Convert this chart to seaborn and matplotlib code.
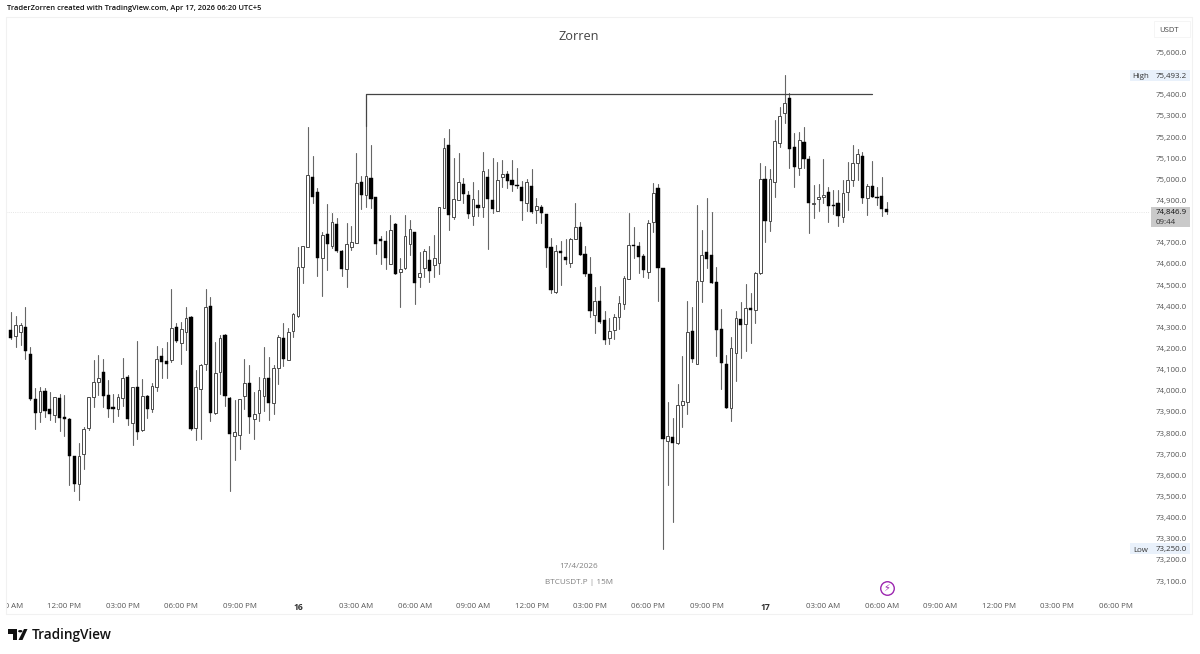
import numpy as np
import pandas as pd
import matplotlib
matplotlib.use('Agg')
import matplotlib.pyplot as plt
import seaborn as sns
from matplotlib.patches import Rectangle, Polygon, Circle
from matplotlib.lines import Line2D
from matplotlib.transforms import Bbox

# BTCUSDT.P 15M candles
opens = [74287,74259,74279,74303,74174,73961,73901,73997,73913,73885,
         73967,73874,73868,73691,73559,73699,73822,73972,74043,74087,
         73979,73921,73913,73964,74066,73849,74016,73814,73977,73913,
         74016,74163,74141,74144,74301,74227,74279,74350,73822,74008,
         74126,74401,73893,74090,74263,73967,73786,73790,73975,74035,
         73868,73893,73975,74059,73943,74110,74252,74145,74284,74355,
         74584,74681,75010,74938,74630,74741,74685,74788,74662,74577,
         74680,74700,74987,74927,75006,74916,74719,74710,74601,74787,
         74563,74580,74694,74752,74539,74580,74617,74596,74606,74866,
         75164,74823,74904,74976,74926,74828,74879,74867,75010,74902,
         74850,75010,75025,74997,74975,74962,74886,74967,74857,74871,
         74836,74678,74467,74659,74634,74603,74719,74777,74645,74552,
         74358,74424,74334,74251,74289,74347,74409,74530,74688,74685,
         74636,74560,74798,74959,74579,73764,73783,73751,73931,73945,
         74282,74126,74521,74656,74642,74514,74292,74128,73918,74180,
         74341,74316,74391,74382,74557,75001,74804,74987,75170,75312,
         75383,75151,75052,75176,75096,74882,74905,74915,74938,74878,
         74889,74823,74942,74995,75079,75109,74913,74968,74916,74919,74861]
closes = [74248,74311,74311,74190,73961,73896,73999,73906,73888,73970,
          73872,73868,73691,73559,73693,73819,73969,74041,74059,73977,
          73913,73916,73969,74059,73865,74016,73806,73977,73916,74022,
          74150,74137,74126,74298,74235,74290,74342,73819,74016,74124,
          74398,73893,74085,74248,73977,73795,73806,73959,74035,73877,
          73888,74003,74059,73940,74110,74255,74151,74279,74361,74587,
          74686,75019,74918,74630,74735,74694,74800,74662,74577,74692,
          74703,74981,74927,75014,74907,74692,74708,74628,74759,74553,
          74575,74730,74765,74512,74557,74659,74565,74630,74871,75150,
          74833,74905,74986,74932,74836,74905,74863,75041,74909,74860,
          74997,75025,74994,74973,74967,74896,74989,74847,74872,74839,
          74677,74476,74659,74653,74620,74716,74777,74642,74550,74375,
          74423,74327,74241,74281,74349,74416,74532,74688,74685,74634,
          74571,74795,74935,74579,73770,73787,73754,73932,73951,74279,
          74148,74521,74642,74625,74511,74287,74130,73920,74202,74342,
          74312,74390,74380,74557,75001,74804,75001,75183,75301,75362,
          75145,75060,75184,75098,74886,74889,74916,74926,74875,74874,
          74826,74934,74998,75076,75120,74913,74970,74915,74913,74861,74846.9]
highs = [74374,74354,74322,74398,74205,74011,74019,74011,73995,73972,
         73987,73979,73869,73691,73751,73830,73972,74145,74169,74148,
         74051,73983,73987,74156,74074,74019,74237,74055,73979,74035,
         74213,74200,74232,74481,74319,74326,74398,74354,74098,74126,
         74481,74445,74232,74263,74267,73969,73956,73959,74148,74124,
         73992,74066,74208,74158,74121,74263,74319,74295,74366,74681,
         74686,75246,75110,74957,74752,74883,74839,74815,74665,74792,
         74779,75123,75016,75252,75162,74918,74732,74757,74830,74792,
         74626,74830,74807,74752,74658,74669,74685,74735,74871,75198,
         75238,75102,75123,75005,74945,74987,74950,75131,75049,75102,
         75084,75091,75039,75091,75052,74994,75000,75047,74910,74879,
         74836,74721,74689,74710,74716,74721,74886,74800,74685,74634,
         74492,74495,74379,74342,74363,74448,74543,74839,74773,74705,
         74647,74807,74984,74978,74579,73948,73869,74032,74164,74426,
         74398,74878,74760,74913,74847,74584,74387,74169,74253,74379,
         74420,74503,74461,74563,75076,75064,75047,75280,75344,75493.2,
         75410,75217,75222,75246,75110,74973,74978,75094,74962,74949,
         74949,74997,75083,75162,75142,75131,74978,75087,74962,75009,74894]
lows = [74243,74208,74216,74148,73956,73817,73854,73877,73861,73854,
        73811,73786,73554,73525,73483,73628,73814,73925,73979,73925,
        73877,73854,73880,73928,73838,73743,73770,73811,73872,73901,
        74000,74059,74059,74137,74232,74126,74192,73814,73767,73770,
        74098,73858,73890,73987,73928,73525,73672,73723,73916,73801,
        73770,73858,73903,73861,73890,74032,74117,74145,74255,74350,
        74508,74681,74886,74544,74449,74571,74673,74657,74544,74492,
        74665,74697,74860,74867,74863,74647,74599,74574,74599,74552,
        74397,74578,74642,74410,74492,74539,74514,74539,74552,74866,
        74760,74811,74902,74890,74815,74784,74827,74820,74670,74842,
        74850,74962,74957,74946,74957,74807,74850,74839,74795,74792,
        74587,74464,74464,74500,74599,74584,74719,74640,74544,74350,
        74275,74322,74221,74221,74243,74290,74385,74527,74626,74555,
        74539,74535,74752,74426,73250,73554,73377,73748,73827,73888,
        74137,74125,74421,74579,74508,74164,74008,73917,73858,74046,
        74153,74189,74224,74322,74550,74705,74757,74915,75151,75265,
        75052,74962,75023,75052,74748,74815,74850,74886,74800,74836,
        74779,74800,74855,74968,74997,74886,74831,74915,74878,74828,74836]

time_ticks = [-1, 11, 23, 35, 47, 59, 71, 83, 95, 107, 119, 131, 143, 155, 167, 179, 191, 203, 215, 227]
time_labels = ['09:00 AM', '12:00 PM', '03:00 PM', '06:00 PM', '09:00 PM', '16', '03:00 AM', '06:00 AM',
               '09:00 AM', '12:00 PM', '03:00 PM', '06:00 PM', '09:00 PM', '17', '03:00 AM', '06:00 AM',
               '09:00 AM', '12:00 PM', '03:00 PM', '06:00 PM']
price_ticks = [75600, 75400, 75300, 75200, 75100, 75000, 74900, 74700, 74600, 74500, 74400, 74300, 74200,
               74100, 74000, 73900, 73800, 73700, 73600, 73500, 73400, 73300, 73200, 73100]

# drawn tool: start bar, end bar, level
level_bars = [73, 73, 177]
level_prices = [75252, 75403, 75403]
last_price = 74846.9
high_price = 75493.2
low_price = 73250.0

sns.set_theme(style='white')
plt.rcParams['font.family'] = ['Open Sans', 'DejaVu Sans']

W, H = 1200, 654
fig = plt.figure(figsize=(W / 100, H / 100), dpi=100, facecolor='white')


def fx(x):
    return x / W


def fy(y):
    return 1 - y / H


def ftext(x, y, s, **kw):
    kw.setdefault('va', 'center')
    return fig.text(fx(x), fy(y + 1), s, **kw)


def fbox(x0, y0, x1, y1, **kw):
    fig.add_artist(Rectangle((fx(x0), fy(y1)), (x1 - x0) / W, (y1 - y0) / H,
                             transform=fig.transFigure, **kw))


ax = fig.add_axes([fx(6), fy(595), (1150 - 6) / W, (595 - 17) / H])
ax.set_facecolor('white')

df = pd.DataFrame({'open': opens, 'high': highs, 'low': lows, 'close': closes})
df['bar'] = np.arange(len(df))

# wicks
wicks = df.melt(id_vars='bar', value_vars=['high', 'low'], value_name='price')
sns.lineplot(data=wicks, x='bar', y='price', units='bar', estimator=None, color='#666666',
             lw=0.8, legend=False, ax=ax, zorder=2)

# bodies
up = df[df['close'] >= df['open']]
down = df[df['close'] < df['open']]
ax.bar(up['bar'], up['close'] - up['open'], bottom=up['open'], width=0.56,
       color='white', edgecolor='#4a4a4a', linewidth=0.7, zorder=3)
ax.bar(down['bar'], down['open'] - down['close'], bottom=down['close'], width=0.66,
       color='black', edgecolor='black', linewidth=0.3, zorder=3)

# elbow line
ax.plot(level_bars, level_prices, color='#444444', lw=0.9, zorder=4)
# last price line
ax.axhline(last_price, color='#dddddd', lw=0.6, ls=':', zorder=1)

# lightning badge
ax.scatter([180], [73067], s=95, facecolors='white', edgecolors='#9c27b0', linewidths=1.0, zorder=4)
ax.text(180, 73067, '\u26a1', color='#9c27b0', fontsize=7, ha='center', va='center',
        family=['DejaVu Sans'], zorder=5)

ax.set_xlim(-0.82, 234.1)
ax.set_ylim(73034, 75768)
ax.set_xlabel('')
ax.set_ylabel('')
for s in ax.spines.values():
    s.set_visible(False)

ax.yaxis.tick_right()
ax.set_yticks(price_ticks)
ax.set_yticklabels([f'{p:,.1f}' for p in price_ticks], fontsize=5.7, color='#555555')
ax.tick_params(axis='y', length=0, pad=4.3)

ax.set_xticks(time_ticks)
ax.set_xticklabels(time_labels, fontsize=5.7, color='#555555')
ax.tick_params(axis='x', length=0, pad=6)
for lab in ax.get_xticklabels():
    lab.set_clip_on(True)
    lab.set_clip_box(Bbox([[6, 0], [1200, 654]]))
    if lab.get_text() in ('16', '17'):
        lab.set_fontweight('bold')
        lab.set_fontsize(6.2)
        lab.set_color('#333333')

# pane frame
for xs, ys in [((6, 1192), (17, 17)), ((6, 6), (17, 614)), ((6, 1192), (614, 614)), ((1192, 1192), (17, 614))]:
    fig.add_artist(Line2D([fx(v) for v in xs], [fy(v) for v in ys], color='#f1f1f1', lw=0.8,
                          transform=fig.transFigure))

# header, title, watermark
ftext(7, 8, 'TraderZorren created with TradingView.com, Apr 17, 2026 06:20 UTC+5', fontsize=5.4,
      color='#111111', fontweight='semibold')
ftext(579, 35, 'Zorren', fontsize=9.2, color='#444444', ha='center')
ftext(579, 565.5, '17/4/2026', fontsize=5.9, color='#808080', ha='center')
ftext(579, 581, 'BTCUSDT.P | 15M', fontsize=5.9, color='#808080', ha='center')

# price scale labels
fbox(1154, 21, 1190, 37, facecolor='white', edgecolor='#f4f4f4', lw=0.6)
ftext(1159, 29, 'USDT', fontsize=5.5, color='#444444')
fbox(1130, 70, 1190, 81, facecolor='#e9f1fb', edgecolor='none')
ftext(1132, 75.5, 'High', fontsize=5.7, color='#333333')
ftext(1156, 75.5, f'{high_price:,.1f}', fontsize=5.7, color='#333333')
fbox(1130, 543, 1190, 554, facecolor='#e9f1fb', edgecolor='none')
ftext(1133, 549, 'Low', fontsize=5.7, color='#333333')
ftext(1156, 549, f'{low_price:,.1f}', fontsize=5.7, color='#333333')
fbox(1151, 207, 1190, 227, facecolor='#c9c9c9', edgecolor='none')
ftext(1156, 212, f'{last_price:,.1f}', fontsize=5.7, color='#111111')
ftext(1156, 221, '09:44', fontsize=5.7, color='#333333')

# TradingView logo
for pts in [[(8, 629), (17, 629), (17, 640), (12.5, 640), (12.5, 633.5), (8, 633.5)],
            [(24, 629), (27.5, 629), (22.5, 640), (18.5, 640)]]:
    fig.add_artist(Polygon([(fx(a), fy(b)) for a, b in pts], closed=True, facecolor='#111111',
                           edgecolor='none', transform=fig.transFigure))
fig.add_artist(Circle((fx(20.3), fy(631.2)), 2.2 / W, facecolor='#111111', edgecolor='none',
                      transform=fig.transFigure))
ftext(32, 634, 'TradingView', fontsize=9.8, color='#131313', fontweight='semibold')

fig.savefig('out.png', dpi=100, facecolor='white')
